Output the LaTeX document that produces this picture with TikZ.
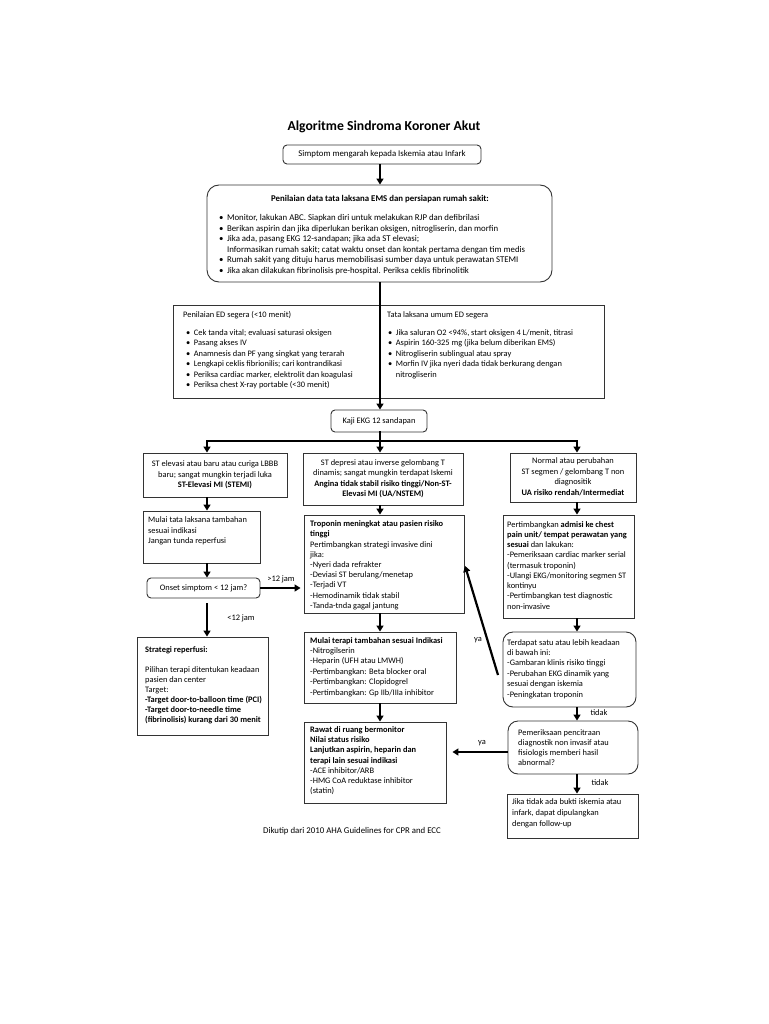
\documentclass[tikz,border=0pt]{standalone}
\usepackage{fontspec}
\setmainfont{Carlito}
\usetikzlibrary{arrows.meta,calc,fit}
\newcommand{\lt}[1]{\begin{tabular}{@{}l@{}}#1\end{tabular}}
\newcommand{\ct}[1]{\begin{tabular}{@{}c@{}}#1\end{tabular}}
\newcommand{\bt}[1]{\begin{tabular}{@{}l@{\hspace{3.5pt}}l@{}}#1\end{tabular}}
\begin{document}
\begin{tikzpicture}[x=1pt,y=-1pt,
  box/.style={draw=black!80, line width=0.9pt, inner sep=0pt},
  rbox/.style={box, rounded corners=#1},
  txt/.style={font=\fontsize{8.4}{10.5}\selectfont, inner sep=0pt},
  big/.style={font=\fontsize{8.8}{10.5}\selectfont, inner sep=0pt},
  arr/.style={line width=2.2pt, -{Triangle[length=6pt,width=7pt]}},
  plain/.style={line width=2.2pt, line cap=rect}]
\useasboundingbox[fill=white] (0,0) rectangle (768,1024);

\coordinate (spine) at (380,0);
\coordinate (colL) at (207,0);
\coordinate (colR) at (577,0);
\coordinate (branch) at (0,441);
\coordinate (yaRow) at (0,752);
\coordinate (yaS) at (498,675);

% title
\node[inner sep=0pt, font=\fontsize{13.7}{15}\selectfont\bfseries] (title) at (384,127) {Algoritme Sindroma Koroner Akut};

% boxes
\node[rbox=4pt, fit={(283,145)(481,164)}] (sym) {};
\node[big] (symT) at (sym.center) {Simptom mengarah kepada Iskemia atau Infark};

\node[rbox=12pt, fit={(207,185)(552,282)}] (ems) {};
\node[big, font=\fontsize{8.8}{10.5}\selectfont\bfseries] (emsT) at (380,199) {Penilaian data tata laksana EMS dan persiapan rumah sakit:};
\node[big, anchor=west] (emsL) at (219,245) {\bt{\textbullet & Monitor, lakukan ABC. Siapkan diri untuk melakukan RJP dan defibrilasi\\
\textbullet & Berikan aspirin dan jika diperlukan berikan oksigen, nitrogliserin, dan morfin\\
\textbullet & Jika ada, pasang EKG 12-sandapan; jika ada ST elevasi;\\
 & Informasikan rumah sakit; catat waktu onset dan kontak pertama dengan tim medis\\
\textbullet & Rumah sakit yang dituju harus memobilisasi sumber daya untuk perawatan STEMI\\
\textbullet & Jika akan dilakukan fibrinolisis pre-hospital. Periksa ceklis fibrinolitik}};

\node[box, fit={(173,305)(604,398)}] (ed) {};
\node[txt, anchor=west] (edL) at (183,350.5) {\bt{\multicolumn{2}{@{}l@{}}{Penilaian ED segera (<10 menit)}\\[7.5pt]
\hspace{3pt}\textbullet & Cek tanda vital; evaluasi saturasi oksigen\\
\hspace{3pt}\textbullet & Pasang akses IV\\
\hspace{3pt}\textbullet & Anamnesis dan PF yang singkat yang terarah\\
\hspace{3pt}\textbullet & Lengkapi ceklis fibrionilis; cari kontrandikasi\\
\hspace{3pt}\textbullet & Periksa cardiac marker, elektrolit dan koagulasi\\
\hspace{3pt}\textbullet & Periksa chest X-ray portable (<30 menit)}};
\node[txt, anchor=west] (edR) at (387,345) {\bt{\multicolumn{2}{@{}l@{}}{Tata laksana umum ED segera}\\[7.5pt]
\hspace{1pt}\textbullet & Jika saluran O2 <94\%, start oksigen 4 L/menit, titrasi\\
\hspace{1pt}\textbullet & Aspirin 160-325 mg (jika belum diberikan EMS)\\
\hspace{1pt}\textbullet & Nitrogliserin sublingual atau spray\\
\hspace{1pt}\textbullet & Morfin IV jika nyeri dada tidak berkurang dengan\\
 & nitrogliserin}};

\node[rbox=4pt, fit={(331,410)(427,432)}] (kaji) {};
\node[txt] (kajiT) at (kaji.center) {Kaji EKG 12 sandapan};

\node[box, fit={(143,453)(287,497)}] (rowL) {};
\node[txt] (rowLT) at (rowL.center) {\ct{ST elevasi atau baru atau curiga LBBB\\ baru; sangat mungkin terjadi luka\\ \textbf{ST-Elevasi MI (STEMI)}}};
\node[box, fit={(303,453)(463,505)}] (rowM) {};
\node[txt] (rowMT) at (rowM.center) {\ct{ST depresi atau inverse gelombang T\\ dinamis; sangat mungkin terdapat Iskemi\\ \textbf{Angina tidak stabil risiko tinggi/Non-ST-}\\ \textbf{Elevasi MI (UA/NSTEM)}}};
\node[box, fit={(510,453)(636,502)}] (rowR) {};
\node[txt] (rowRT) at (rowR.center) {\ct{Normal atau perubahan\\ ST segmen / gelombang T non\\ diagnositik\\ \textbf{UA risiko rendah/Intermediat}}};

% left column
\node[box, fit={(143,511)(260,563)}] (mulaiL) {};
\node[txt, anchor=west] (mulaiLT) at (148,531) {\lt{Mulai tata laksana tambahan\\ sesuai indikasi\\ Jangan tunda reperfusi}};
\node[rbox=4pt, fit={(147,578)(260,598)}] (onset) {};
\node[txt] (onsetT) at (onset.center) {Onset simptom < 12 jam?};
\node[box, fit={(137,637)(268,735)}] (strat) {};
\node[txt, font=\fontsize{8.4}{10}\selectfont, anchor=west] (stratT) at (145,685) {\lt{\textbf{Strategi reperfusi:}\\ \\ Pilihan terapi ditentukan keadaan\\ pasien dan center\\ Target:\\ \textbf{-Target door-to-balloon time (PCI)}\\ \textbf{-Target door-to-needle time}\\ \textbf{(fibrinolisis) kurang dari 30 menit}}};

% middle column
\node[box, fit={(304,515)(464,613)}] (trop) {};
\node[txt, font=\fontsize{8.4}{10.2}\selectfont, anchor=west] (tropT) at (310,565.5) {\lt{\textbf{Troponin meningkat atau pasien risiko}\\ \textbf{tinggi}\\ Pertimbangkan strategi invasive dini\\ jika:\\ -Nyeri dada refrakter\\ -Deviasi ST berulang/menetap\\ -Terjadi VT\\ -Hemodinamik tidak stabil\\ -Tanda-tnda gagal jantung}};
\node[box, fit={(304,632)(456,703)}] (terapi) {};
\node[txt, font=\fontsize{8.4}{10.4}\selectfont, anchor=west] (terapiT) at (310,667) {\lt{\textbf{Mulai terapi tambahan sesuai Indikasi}\\ -Nitrogilserin\\ -Heparin (UFH atau LMWH)\\ -Pertimbangkan: Beta blocker oral\\ -Pertimbangkan: Clopidogrel\\ -Pertimbangkan: Gp IIb/IIIa inhibitor}};
\node[box, fit={(304,722)(446,803)}] (rawat) {};
\node[txt, font=\fontsize{8.4}{10.3}\selectfont, anchor=west] (rawatT) at (310,761) {\lt{\textbf{Rawat di ruang bermonitor}\\ \textbf{Nilai status risiko}\\ \textbf{Lanjutkan aspirin, heparin dan}\\ \textbf{terapi lain sesuai indikasi}\\ -ACE inhibitor/ARB\\ -HMG CoA reduktase inhibitor\\ (statin)}};

% right column
\node[box, fit={(503,515)(634,618)}] (pert) {};
\node[txt, font=\fontsize{8.4}{10.25}\selectfont, anchor=west] (pertT) at (507,566) {\lt{Pertimbangkan \textbf{admisi ke chest}\\ \textbf{pain unit/ tempat perawatan yang}\\ \textbf{sesuai} dan lakukan:\\ -Pemeriksaan cardiac marker serial\\ (termasuk troponin)\\ -Ulangi EKG/monitoring segmen ST\\ kontinyu\\ -Pertimbangkan test diagnostic\\ non-invasive}};
\node[rbox=10pt, fit={(503,632)(636,707)}] (terdapat) {};
\node[txt, font=\fontsize{8.4}{10.4}\selectfont, anchor=west] (terdapatT) at (507,669) {\lt{Terdapat satu atau lebih keadaan\\ di bawah ini:\\ -Gambaran klinis risiko tinggi\\ -Perubahan EKG dinamik yang\\ sesuai dengan iskemia\\ -Peningkatan troponin}};
\node[rbox=10pt, fit={(508,721)(638,774)}] (pemer) {};
\node[txt, font=\fontsize{8.4}{10}\selectfont, anchor=west] (pemerT) at (518,748) {\lt{Pemeriksaan pencitraan\\ diagnostik non invasif atau\\ fisiologis memberi hasil\\ abnormal?}};
\node[box, fit={(507,794)(638,838)}] (final) {};
\node[txt, font=\fontsize{8.4}{11}\selectfont, anchor=west] (finalT) at (512,813) {\lt{Jika tidak ada bukti iskemia atau\\ infark, dapat dipulangkan\\ dengan follow-up}};

% footer
\node[big] (foot) at (352,831) {Dikutip dari 2010 AHA Guidelines for CPR and ECC};

% connectors
\draw[arr] (sym.south -| spine) -- (ems.north -| spine);
\draw[arr] (ems.south -| spine) -- (kaji.north -| spine);
\draw[plain] (kaji.south -| spine) -- (spine |- branch);
\draw[plain] (colL |- branch) -- (colR |- branch);
\draw[arr] (colL |- branch) -- (colL |- rowL.north);
\draw[arr] (spine |- branch) -- (spine |- rowM.north);
\draw[arr] (colR |- branch) -- (colR |- rowR.north);

\draw[arr] (colL |- rowL.south) -- (colL |- mulaiL.north);
\draw[arr] (colL |- mulaiL.south) -- (colL |- onset.north);
\draw[arr, shorten >=3pt] (onset.east) -- (trop.west |- onset.east);
\node[txt] (gt12) at (281,579) {>12 jam};
\draw[arr, shorten <=5pt] (colL |- onset.south) -- (colL |- strat.north);
\node[txt] (lt12) at (241,618) {<12 jam};

\draw[arr] (spine |- rowM.south) -- (spine |- trop.north);
\draw[arr] (spine |- trop.south) -- (spine |- terapi.north);
\draw[arr] (spine |- terapi.south) -- (spine |- rawat.north);

\draw[arr] (colR |- rowR.south) -- (colR |- pert.north);
\draw[arr] (colR |- pert.south) -- (colR |- terdapat.north);
\draw[arr] (colR |- terdapat.south) -- (colR |- pemer.north);
\node[txt] (tidak1) at (599,713) {tidak};
\draw[arr] (colR |- pemer.south) -- (colR |- final.north);
\node[txt] (tidak2) at (600,783) {tidak};
\draw[arr, shorten >=6pt] (pemer.west |- yaRow) -- (rawat.east |- yaRow);
\node[txt] (ya2) at (482,743) {ya};
\draw[arr, shorten >=2pt] (yaS) -- (trop.east);
\node[txt] (ya1) at (478,640) {ya};
\end{tikzpicture}
\end{document}
